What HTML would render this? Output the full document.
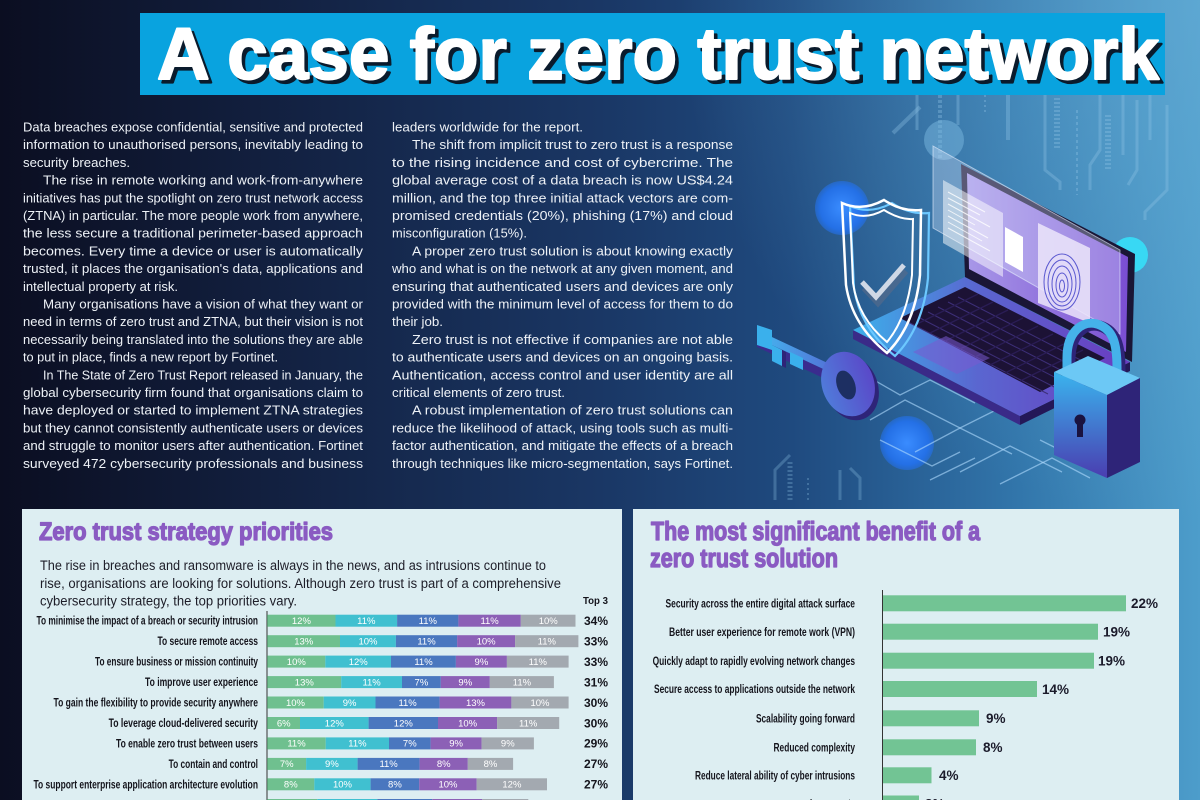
<!DOCTYPE html>
<html><head><meta charset="utf-8">
<style>
html,body{margin:0;padding:0;width:1200px;height:800px;overflow:hidden;background:#0c1024}
svg{display:block}
.b{font-family:"Liberation Sans",sans-serif;font-size:13px;fill:#eef2f7}
.d{font-family:"Liberation Sans",sans-serif;font-size:13.5px;fill:#1d1d28}
.c{font-family:"Liberation Sans Narrow","Liberation Sans",sans-serif;font-weight:bold;fill:#14141c}
.s{font-family:"Liberation Sans Narrow","Liberation Sans",sans-serif;font-size:9.5px;fill:#ffffff}
.p{font-family:"Liberation Sans",sans-serif;font-weight:bold;font-size:13.5px;fill:#1b1b2b}
.h{font-family:"Liberation Sans Narrow","Liberation Sans",sans-serif;font-weight:bold;fill:#8a5bc2;stroke:#8a5bc2;stroke-width:1.3;stroke-linejoin:round}
</style></head><body>
<svg width="1200" height="800" viewBox="0 0 1200 800" xmlns="http://www.w3.org/2000/svg">
<defs>
<linearGradient id="bg" x1="0" y1="0" x2="1200" y2="0" gradientUnits="userSpaceOnUse">
 <stop offset="0" stop-color="#0b0e21"/>
 <stop offset="0.25" stop-color="#132243"/>
 <stop offset="0.5" stop-color="#1a3765"/>
 <stop offset="0.66" stop-color="#1f4a7f"/>
 <stop offset="0.85" stop-color="#3276ab"/>
 <stop offset="1" stop-color="#4d9dcb"/>
</linearGradient>
<radialGradient id="glow" cx="1200" cy="0" r="520" gradientUnits="userSpaceOnUse">
 <stop offset="0" stop-color="#6ab0d8" stop-opacity="0.55"/>
 <stop offset="1" stop-color="#6ab0d8" stop-opacity="0"/>
</radialGradient>
<radialGradient id="bc" cx="0.5" cy="0.5" r="0.5">
 <stop offset="0" stop-color="#3a8cff"/>
 <stop offset="0.8" stop-color="#2470e6"/>
 <stop offset="1" stop-color="#2470e6" stop-opacity="0.6"/>
</radialGradient>
<linearGradient id="base" x1="853" y1="0" x2="1130" y2="0" gradientUnits="userSpaceOnUse">
 <stop offset="0" stop-color="#3cb0ea"/>
 <stop offset="0.45" stop-color="#5a66d0"/>
 <stop offset="1" stop-color="#6a3cc0"/>
</linearGradient>
<linearGradient id="scr" x1="966" y1="0" x2="1128" y2="0" gradientUnits="userSpaceOnUse">
 <stop offset="0" stop-color="#a898e8"/>
 <stop offset="1" stop-color="#7a4ed2"/>
</linearGradient>
<linearGradient id="lockf" x1="0" y1="372" x2="0" y2="478" gradientUnits="userSpaceOnUse">
 <stop offset="0" stop-color="#3ab4ee"/>
 <stop offset="1" stop-color="#4a3db0"/>
</linearGradient>
<linearGradient id="keyg" x1="757" y1="0" x2="875" y2="0" gradientUnits="userSpaceOnUse">
 <stop offset="0" stop-color="#44b8f0"/>
 <stop offset="1" stop-color="#5a48c8"/>
</linearGradient>
</defs>

<!-- background -->
<rect x="0" y="0" width="1200" height="800" fill="url(#bg)"/>
<rect x="0" y="0" width="1200" height="800" fill="url(#glow)"/>

<!-- top circuit lines -->
<g stroke="#8fc4e6" stroke-opacity="0.35" fill="none">
 <path d="M917,95 L917,130" stroke-width="3"/>
 <path d="M893,133 L920,107" stroke-width="4"/>
 <path d="M940,95 L940,160" stroke-width="4" stroke-dasharray="3,2"/>
 <path d="M958,95 L958,125" stroke-width="3"/>
 <path d="M985,95 L985,115" stroke-width="2" stroke-dasharray="2,3"/>
 <path d="M1008,95 L1008,140" stroke-width="4"/>
 <path d="M1045,95 L1045,170 L1060,182 L1060,190" stroke-width="3"/>
 <path d="M1057,98 L1057,150" stroke-width="6" stroke-dasharray="2,2"/>
 <path d="M1077,110 L1077,195" stroke-width="2" stroke-dasharray="3,3"/>
 <path d="M1100,95 L1100,150 L1090,165 L1090,190" stroke-width="3"/>
 <path d="M1108,115 L1108,170" stroke-width="6" stroke-dasharray="2,2"/>
 <path d="M1123,95 L1123,155" stroke-width="3"/>
 <path d="M1137,100 L1137,170 L1128,185" stroke-width="3"/>
 <path d="M1150,95 L1150,140" stroke-width="3"/>
 <path d="M1167,105 L1167,190 L1145,212 L1145,220" stroke-width="3"/>
</g>
<g stroke="#8fc4e6" stroke-opacity="0.3" fill="none">
 <path d="M775,500 L775,470 L790,455" stroke-width="3"/>
 <path d="M790,500 L790,460" stroke-width="5" stroke-dasharray="2,2"/>
 <path d="M808,500 L808,475" stroke-width="2" stroke-dasharray="2,3"/>
 <path d="M840,500 L840,470" stroke-width="3"/>
 <path d="M860,500 L860,478 L850,468" stroke-width="3"/>
</g>

<!-- glow circles -->
<circle cx="944" cy="140" r="20" fill="#7ab8e0" fill-opacity="0.5"/>
<circle cx="842" cy="208" r="27" fill="url(#bc)"/>
<circle cx="907" cy="443" r="27" fill="url(#bc)"/>
<circle cx="1130" cy="255" r="18" fill="#38d8f4"/>

<!-- floor circuits -->
<g stroke="#b0dcff" stroke-opacity="0.6" stroke-width="1.3" fill="none">
 <path d="M860,372 L900,395 L930,380 L975,403"/>
 <path d="M870,420 L905,400 L960,428 L1000,408"/>
 <path d="M915,452 L960,428 L1012,454"/>
 <path d="M960,472 L1010,446 L1062,472"/>
 <path d="M1000,484 L1052,458 L1090,478"/>
 <path d="M880,440 L932,466 L960,452"/>
 <path d="M1040,440 L1080,460 L1120,440"/>
 <path d="M930,480 L975,458"/>
</g>

<!-- laptop base -->
<polygon points="853,330 1020,416 1020,425 853,339" fill="#3a2a88"/>
<polygon points="1020,416 1130,362 1130,371 1020,425" fill="#241858"/>
<polygon points="853,330 965,277 1130,362 1020,416" fill="url(#base)"/>
<polygon points="900,318 965,287 1105,358 1040,392" fill="#1c1235"/>
<g stroke="#3d2f78" stroke-width="1">
 <path d="M908,322 L1048,394"/><path d="M918,317 L1058,389"/><path d="M928,312 L1068,384"/><path d="M938,307 L1078,379"/><path d="M948,302 L1088,374"/><path d="M958,297 L1098,369"/>
</g>
<g stroke="#2a1d55" stroke-width="1.3">
 <path d="M915,325 L978,294"/><path d="M930,333 L993,302"/><path d="M945,341 L1008,310"/><path d="M960,349 L1023,318"/><path d="M975,357 L1038,326"/><path d="M990,365 L1053,334"/><path d="M1005,373 L1068,342"/><path d="M1020,381 L1083,350"/>
</g>
<polygon points="913,352 946,336 990,358 957,374" fill="#7a5ad0" fill-opacity="0.55"/>

<!-- lid -->
<polygon points="961,164 1135,254 1132,362 965,277" fill="#1a1636"/>
<polygon points="967,173 1128,257 1126,352 969,269" fill="url(#scr)"/>
<!-- hologram pane -->
<polygon points="933,146 1120,250 1120,334 933,228" fill="#dfe8ff" fill-opacity="0.32" stroke="#e8f0ff" stroke-opacity="0.6"/>
<polygon points="943,180 1003,213 1003,277 943,243" fill="#ffffff" fill-opacity="0.5"/>
<g stroke="#ffffff" stroke-opacity="0.8" stroke-width="1">
 <path d="M948,192 L985,212"/><path d="M948,198 L980,215"/><path d="M948,204 L990,227"/><path d="M948,210 L975,225"/><path d="M948,216 L988,238"/><path d="M948,222 L982,241"/><path d="M948,228 L990,251"/>
</g>
<polygon points="1005,227 1023,237 1023,272 1005,262" fill="#ffffff"/>
<polygon points="1038,223 1090,248 1090,323 1038,303" fill="#ece6fa" fill-opacity="0.85"/>
<g fill="none" stroke="#5a58d0" stroke-width="1">
 <ellipse cx="1062" cy="282" rx="18" ry="28"/>
 <ellipse cx="1062" cy="283" rx="14" ry="23"/>
 <ellipse cx="1062" cy="284" rx="10" ry="18"/>
 <ellipse cx="1062" cy="285" rx="6" ry="12"/>
 <ellipse cx="1062" cy="286" rx="2.5" ry="6"/>
</g>

<!-- shield -->
<path d="M850,206 Q870,215 892,203 Q910,215 929,213 L928,278 Q923,328 895,356 Q860,328 854,288 Z" fill="none" stroke="#6cc8ff" stroke-width="2.2"/>
<path d="M842,203 Q862,212 884,200 Q902,212 921,210 L920,275 Q915,325 887,353 Q852,325 846,285 Z" fill="none" stroke="#ffffff" stroke-width="2.5"/>
<path d="M850,213 Q866,220 884,210 Q900,220 913,219 L912,275 Q907,318 887,342 Q858,318 853,283 Z" fill="none" stroke="#ffffff" stroke-width="2"/>
<polyline points="862,285 876,300 904,268" fill="none" stroke="#5a6a88" stroke-width="6" stroke-opacity="0.6" transform="translate(2,3)"/>
<polyline points="862,282 876,297 904,265" fill="none" stroke="#cfd8e6" stroke-width="5"/>

<!-- key -->
<polygon points="757,338 834,374 834,383 757,347" fill="#3a2c8e"/>
<polygon points="757,330 834,366 834,374 757,338" fill="url(#keyg)"/>
<polygon points="757,325 772,330 772,350 757,345" fill="#3ab0ec"/>
<polygon points="772,345 782,350 782,366 772,361" fill="#3ab0ec"/>
<polygon points="790,352 803,358 803,370 790,364" fill="#3ab0ec"/>
<polygon points="782,350 786,352 786,368 782,366" fill="#2e2478"/>
<ellipse cx="852" cy="388" rx="26" ry="33" fill="#2e2478" transform="rotate(-20 852 388)"/>
<ellipse cx="848" cy="384" rx="26" ry="33" fill="url(#keyg)" transform="rotate(-20 848 384)"/>
<ellipse cx="846" cy="385" rx="9" ry="15" fill="#1d2f62" transform="rotate(-20 846 385)"/>

<!-- padlock -->
<path d="M1070,392 L1070,360 C1070,333 1086,322 1100,326 C1116,331 1120,345 1120,370 L1120,388" fill="none" stroke="#2e2478" stroke-width="11"/>
<path d="M1067,390 L1067,358 C1067,331 1083,320 1097,324 C1113,329 1117,343 1117,368 L1117,386" fill="none" stroke="#45b2ea" stroke-width="9"/>
<polygon points="1054,372 1088,356 1140,378 1107,395" fill="#6cc8f5"/>
<polygon points="1107,395 1140,378 1140,462 1107,478" fill="#2e2478"/>
<polygon points="1054,372 1107,395 1107,478 1054,455" fill="url(#lockf)"/>
<circle cx="1080" cy="420" r="5.5" fill="#1a1240"/>
<rect x="1077" y="420" width="6" height="17" fill="#1a1240"/>

<!-- title -->
<rect x="140" y="13" width="1025" height="82" fill="#09a3df"/>
<text x="160.5" y="82.5" font-size="73" font-weight="bold" font-family="'Liberation Sans Narrow','Liberation Sans',sans-serif" textLength="1002" lengthAdjust="spacingAndGlyphs" fill="#0a1b2c" stroke="#0a1b2c" stroke-width="2.2" stroke-linejoin="round">A case for zero trust network</text>
<text x="157" y="79" font-size="73" font-weight="bold" font-family="'Liberation Sans Narrow','Liberation Sans',sans-serif" textLength="1002" lengthAdjust="spacingAndGlyphs" fill="#ffffff" stroke="#ffffff" stroke-width="2" stroke-linejoin="round">A case for zero trust network</text>

<!-- left column -->
<g class="b">
<text x="23" y="131.5" textLength="340" lengthAdjust="spacingAndGlyphs">Data breaches expose confidential, sensitive and protected</text>
<text x="23" y="149.2" textLength="340" lengthAdjust="spacingAndGlyphs">information to unauthorised persons, inevitably leading to</text>
<text x="23" y="166.9" textLength="107" lengthAdjust="spacingAndGlyphs">security breaches.</text>
<text x="43" y="184.6" textLength="320" lengthAdjust="spacingAndGlyphs">The rise in remote working and work-from-anywhere</text>
<text x="23" y="202.3" textLength="340" lengthAdjust="spacingAndGlyphs">initiatives has put the spotlight on zero trust network access</text>
<text x="23" y="220" textLength="340" lengthAdjust="spacingAndGlyphs">(ZTNA) in particular. The more people work from anywhere,</text>
<text x="23" y="237.7" textLength="340" lengthAdjust="spacingAndGlyphs">the less secure a traditional perimeter-based approach</text>
<text x="23" y="255.4" textLength="340" lengthAdjust="spacingAndGlyphs">becomes. Every time a device or user is automatically</text>
<text x="23" y="273.1" textLength="340" lengthAdjust="spacingAndGlyphs">trusted, it places the organisation's data, applications and</text>
<text x="23" y="290.8" textLength="155" lengthAdjust="spacingAndGlyphs">intellectual property at risk.</text>
<text x="43" y="308.5" textLength="320" lengthAdjust="spacingAndGlyphs">Many organisations have a vision of what they want or</text>
<text x="23" y="326.2" textLength="340" lengthAdjust="spacingAndGlyphs">need in terms of zero trust and ZTNA, but their vision is not</text>
<text x="23" y="343.9" textLength="340" lengthAdjust="spacingAndGlyphs">necessarily being translated into the solutions they are able</text>
<text x="23" y="361.6" textLength="255" lengthAdjust="spacingAndGlyphs">to put in place, finds a new report by Fortinet.</text>
<text x="43" y="379.3" textLength="320" lengthAdjust="spacingAndGlyphs">In The State of Zero Trust Report released in January, the</text>
<text x="23" y="397" textLength="340" lengthAdjust="spacingAndGlyphs">global cybersecurity firm found that organisations claim to</text>
<text x="23" y="414.7" textLength="340" lengthAdjust="spacingAndGlyphs">have deployed or started to implement ZTNA strategies</text>
<text x="23" y="432.4" textLength="340" lengthAdjust="spacingAndGlyphs">but they cannot consistently authenticate users or devices</text>
<text x="23" y="450.1" textLength="340" lengthAdjust="spacingAndGlyphs">and struggle to monitor users after authentication. Fortinet</text>
<text x="23" y="467.8" textLength="340" lengthAdjust="spacingAndGlyphs">surveyed 472 cybersecurity professionals and business</text>
</g>

<!-- middle column -->
<g class="b">
<text x="392" y="131.5" textLength="191" lengthAdjust="spacingAndGlyphs">leaders worldwide for the report.</text>
<text x="412" y="149.2" textLength="321" lengthAdjust="spacingAndGlyphs">The shift from implicit trust to zero trust is a response</text>
<text x="392" y="166.9" textLength="341" lengthAdjust="spacingAndGlyphs">to the rising incidence and cost of cybercrime. The</text>
<text x="392" y="184.6" textLength="341" lengthAdjust="spacingAndGlyphs">global average cost of a data breach is now US$4.24</text>
<text x="392" y="202.3" textLength="341" lengthAdjust="spacingAndGlyphs">million, and the top three initial attack vectors are com-</text>
<text x="392" y="220" textLength="341" lengthAdjust="spacingAndGlyphs">promised credentials (20%), phishing (17%) and cloud</text>
<text x="392" y="237.7" textLength="135" lengthAdjust="spacingAndGlyphs">misconfiguration (15%).</text>
<text x="412" y="255.4" textLength="321" lengthAdjust="spacingAndGlyphs">A proper zero trust solution is about knowing exactly</text>
<text x="392" y="273.1" textLength="341" lengthAdjust="spacingAndGlyphs">who and what is on the network at any given moment, and</text>
<text x="392" y="290.8" textLength="341" lengthAdjust="spacingAndGlyphs">ensuring that authenticated users and devices are only</text>
<text x="392" y="308.5" textLength="341" lengthAdjust="spacingAndGlyphs">provided with the minimum level of access for them to do</text>
<text x="392" y="326.2" textLength="51" lengthAdjust="spacingAndGlyphs">their job.</text>
<text x="412" y="343.9" textLength="321" lengthAdjust="spacingAndGlyphs">Zero trust is not effective if companies are not able</text>
<text x="392" y="361.6" textLength="341" lengthAdjust="spacingAndGlyphs">to authenticate users and devices on an ongoing basis.</text>
<text x="392" y="379.3" textLength="341" lengthAdjust="spacingAndGlyphs">Authentication, access control and user identity are all</text>
<text x="392" y="397" textLength="173" lengthAdjust="spacingAndGlyphs">critical elements of zero trust.</text>
<text x="412" y="414.7" textLength="321" lengthAdjust="spacingAndGlyphs">A robust implementation of zero trust solutions can</text>
<text x="392" y="432.4" textLength="341" lengthAdjust="spacingAndGlyphs">reduce the likelihood of attack, using tools such as multi-</text>
<text x="392" y="450.1" textLength="341" lengthAdjust="spacingAndGlyphs">factor authentication, and mitigate the effects of a breach</text>
<text x="392" y="467.8" textLength="341" lengthAdjust="spacingAndGlyphs">through techniques like micro-segmentation, says Fortinet.</text>
</g>

<!-- panels -->
<rect x="22" y="509" width="600" height="300" fill="#ddeef2"/>
<rect x="633" y="509" width="546" height="300" fill="#ddeef2"/>

<!-- left panel -->
<text class="h" x="39" y="540" font-size="25" textLength="294" lengthAdjust="spacingAndGlyphs">Zero trust strategy priorities</text>
<g class="d">
<text x="40" y="570" textLength="506" lengthAdjust="spacingAndGlyphs">The rise in breaches and ransomware is always in the news, and as intrusions continue to</text>
<text x="40" y="588" textLength="521" lengthAdjust="spacingAndGlyphs">rise, organisations are looking for solutions. Although zero trust is part of a comprehensive</text>
<text x="40" y="605.5" textLength="257" lengthAdjust="spacingAndGlyphs">cybersecurity strategy, the top priorities vary.</text>
</g>
<text class="c" x="583" y="604" font-size="10.5" textLength="25" lengthAdjust="spacingAndGlyphs">Top 3</text>

<line x1="267" y1="611" x2="267" y2="800" stroke="#333" stroke-width="1"/>

<g class="c" font-size="11.5">
<text x="36.5" y="624.7" textLength="221.5" lengthAdjust="spacingAndGlyphs">To minimise the impact of a breach or security intrusion</text>
<text x="157.5" y="645.2" textLength="100.5" lengthAdjust="spacingAndGlyphs">To secure remote access</text>
<text x="95" y="665.6" textLength="163" lengthAdjust="spacingAndGlyphs">To ensure business or mission continuity</text>
<text x="145" y="686.1" textLength="113" lengthAdjust="spacingAndGlyphs">To improve user experience</text>
<text x="53.5" y="706.5" textLength="204.5" lengthAdjust="spacingAndGlyphs">To gain the flexibility to provide security anywhere</text>
<text x="108.6" y="727" textLength="149.4" lengthAdjust="spacingAndGlyphs">To leverage cloud-delivered security</text>
<text x="116" y="747.4" textLength="142" lengthAdjust="spacingAndGlyphs">To enable zero trust between users</text>
<text x="168.6" y="767.9" textLength="89.4" lengthAdjust="spacingAndGlyphs">To contain and control</text>
<text x="33.5" y="788.3" textLength="224.5" lengthAdjust="spacingAndGlyphs">To support enterprise application architecture evolution</text>
<text x="150" y="808.8" textLength="108" lengthAdjust="spacingAndGlyphs">To reduce operational costs</text>
</g>

<!-- stacked bars -->
<g>
<rect x="267.3" y="614.7" width="68.2" height="12" fill="#6fc08f"/><rect x="335.5" y="614.7" width="61.6" height="12" fill="#40c0d0"/><rect x="397.1" y="614.7" width="61.3" height="12" fill="#4a77bf"/><rect x="458.4" y="614.7" width="62.4" height="12" fill="#8c60b6"/><rect x="520.8" y="614.7" width="54.7" height="12" fill="#a3a9b0"/>
<rect x="267.3" y="635.2" width="72.7" height="12" fill="#6fc08f"/><rect x="340" y="635.2" width="55.9" height="12" fill="#40c0d0"/><rect x="395.9" y="635.2" width="61.2" height="12" fill="#4a77bf"/><rect x="457.1" y="635.2" width="58" height="12" fill="#8c60b6"/><rect x="515.1" y="635.2" width="63.3" height="12" fill="#a3a9b0"/>
<rect x="267.3" y="655.6" width="58" height="12" fill="#6fc08f"/><rect x="325.3" y="655.6" width="65.7" height="12" fill="#40c0d0"/><rect x="391" y="655.6" width="64.9" height="12" fill="#4a77bf"/><rect x="455.9" y="655.6" width="51" height="12" fill="#8c60b6"/><rect x="506.9" y="655.6" width="61.7" height="12" fill="#a3a9b0"/>
<rect x="267.3" y="676.1" width="73.9" height="12" fill="#6fc08f"/><rect x="341.2" y="676.1" width="60.8" height="12" fill="#40c0d0"/><rect x="402" y="676.1" width="38.8" height="12" fill="#4a77bf"/><rect x="440.8" y="676.1" width="49" height="12" fill="#8c60b6"/><rect x="489.8" y="676.1" width="64.1" height="12" fill="#a3a9b0"/>
<rect x="267.3" y="696.5" width="56.4" height="12" fill="#6fc08f"/><rect x="323.7" y="696.5" width="51.8" height="12" fill="#40c0d0"/><rect x="375.5" y="696.5" width="64.1" height="12" fill="#4a77bf"/><rect x="439.6" y="696.5" width="71.8" height="12" fill="#8c60b6"/><rect x="511.4" y="696.5" width="57.2" height="12" fill="#a3a9b0"/>
<rect x="267.3" y="717" width="32.7" height="12" fill="#6fc08f"/><rect x="300" y="717" width="68.6" height="12" fill="#40c0d0"/><rect x="368.6" y="717" width="69.4" height="12" fill="#4a77bf"/><rect x="438" y="717" width="59.1" height="12" fill="#8c60b6"/><rect x="497.1" y="717" width="62.1" height="12" fill="#a3a9b0"/>
<rect x="267.3" y="737.4" width="58.4" height="12" fill="#6fc08f"/><rect x="325.7" y="737.4" width="63.3" height="12" fill="#40c0d0"/><rect x="389" y="737.4" width="41.6" height="12" fill="#4a77bf"/><rect x="430.6" y="737.4" width="51" height="12" fill="#8c60b6"/><rect x="481.6" y="737.4" width="52.3" height="12" fill="#a3a9b0"/>
<rect x="267.3" y="757.9" width="38.8" height="12" fill="#6fc08f"/><rect x="306.1" y="757.9" width="51.5" height="12" fill="#40c0d0"/><rect x="357.6" y="757.9" width="62" height="12" fill="#4a77bf"/><rect x="419.6" y="757.9" width="48.2" height="12" fill="#8c60b6"/><rect x="467.8" y="757.9" width="45.3" height="12" fill="#a3a9b0"/>
<rect x="267.3" y="778.3" width="47" height="12" fill="#6fc08f"/><rect x="314.3" y="778.3" width="56.3" height="12" fill="#40c0d0"/><rect x="370.6" y="778.3" width="48.6" height="12" fill="#4a77bf"/><rect x="419.2" y="778.3" width="57.5" height="12" fill="#8c60b6"/><rect x="476.7" y="778.3" width="70.3" height="12" fill="#a3a9b0"/>
<rect x="267.3" y="799" width="50" height="12" fill="#6fc08f"/><rect x="317.3" y="799" width="60" height="12" fill="#40c0d0"/><rect x="377.3" y="799" width="55" height="12" fill="#4a77bf"/><rect x="432.3" y="799" width="50" height="12" fill="#8c60b6"/><rect x="482.3" y="799" width="46" height="12" fill="#a3a9b0"/>
</g>

<g class="s" text-anchor="middle">
<text x="301.4" y="624">12%</text><text x="366.3" y="624">11%</text><text x="427.8" y="624">11%</text><text x="489.6" y="624">11%</text><text x="548.2" y="624">10%</text>
<text x="303.7" y="644.5">13%</text><text x="368" y="644.5">10%</text><text x="426.5" y="644.5">11%</text><text x="486.1" y="644.5">10%</text><text x="546.8" y="644.5">11%</text>
<text x="296.3" y="664.9">10%</text><text x="358.2" y="664.9">12%</text><text x="423.5" y="664.9">11%</text><text x="481.4" y="664.9">9%</text><text x="537.8" y="664.9">11%</text>
<text x="304.3" y="685.4">13%</text><text x="371.6" y="685.4">11%</text><text x="421.4" y="685.4">7%</text><text x="465.3" y="685.4">9%</text><text x="521.9" y="685.4">11%</text>
<text x="295.5" y="705.8">10%</text><text x="349.6" y="705.8">9%</text><text x="407.6" y="705.8">11%</text><text x="475.5" y="705.8">13%</text><text x="540" y="705.8">10%</text>
<text x="283.7" y="726.3">6%</text><text x="334.3" y="726.3">12%</text><text x="403.3" y="726.3">12%</text><text x="467.6" y="726.3">10%</text><text x="528.2" y="726.3">11%</text>
<text x="296.5" y="746.7">11%</text><text x="357.4" y="746.7">11%</text><text x="409.8" y="746.7">7%</text><text x="456.1" y="746.7">9%</text><text x="507.8" y="746.7">9%</text>
<text x="286.7" y="767.2">7%</text><text x="331.9" y="767.2">9%</text><text x="388.6" y="767.2">11%</text><text x="443.7" y="767.2">8%</text><text x="490.5" y="767.2">8%</text>
<text x="290.8" y="787.6">8%</text><text x="342.5" y="787.6">10%</text><text x="394.9" y="787.6">8%</text><text x="448" y="787.6">10%</text><text x="511.9" y="787.6">12%</text>
</g>

<g class="c" font-size="12" text-anchor="end">
<text x="608" y="625">34%</text>
<text x="608" y="645.5">33%</text>
<text x="608" y="665.9">33%</text>
<text x="608" y="686.4">31%</text>
<text x="608" y="706.8">30%</text>
<text x="608" y="727.3">30%</text>
<text x="608" y="747.7">29%</text>
<text x="608" y="768.2">27%</text>
<text x="608" y="788.6">27%</text>
</g>

<!-- right panel -->
<text class="h" x="651" y="540" font-size="25.5" textLength="329" lengthAdjust="spacingAndGlyphs">The most significant benefit of a</text>
<text class="h" x="650" y="567" font-size="25.5" textLength="188" lengthAdjust="spacingAndGlyphs">zero trust solution</text>

<line x1="882.5" y1="590" x2="882.5" y2="800" stroke="#333" stroke-width="1"/>

<g fill="#72c494">
<rect x="883" y="595.3" width="243" height="16"/>
<rect x="883" y="623.7" width="215" height="16"/>
<rect x="883" y="652.7" width="211" height="16"/>
<rect x="883" y="681" width="154" height="16"/>
<rect x="883" y="710.3" width="96" height="16"/>
<rect x="883" y="739.3" width="93" height="16"/>
<rect x="883" y="767.3" width="48.5" height="16"/>
<rect x="883" y="795.5" width="36" height="16"/>
</g>

<g class="c" font-size="12">
<text x="665.5" y="607.5" textLength="189.5" lengthAdjust="spacingAndGlyphs">Security across the entire digital attack surface</text>
<text x="669" y="635.9" textLength="186" lengthAdjust="spacingAndGlyphs">Better user experience for remote work (VPN)</text>
<text x="652.6" y="664.9" textLength="202.4" lengthAdjust="spacingAndGlyphs">Quickly adapt to rapidly evolving network changes</text>
<text x="654" y="693.2" textLength="201" lengthAdjust="spacingAndGlyphs">Secure access to applications outside the network</text>
<text x="756" y="722.5" textLength="99" lengthAdjust="spacingAndGlyphs">Scalability going forward</text>
<text x="773.5" y="751.5" textLength="81.5" lengthAdjust="spacingAndGlyphs">Reduced complexity</text>
<text x="695" y="779.5" textLength="160" lengthAdjust="spacingAndGlyphs">Reduce lateral ability of cyber intrusions</text>
<text x="810" y="807.7" textLength="45" lengthAdjust="spacingAndGlyphs">Lower costs</text>
</g>

<g class="p">
<text x="1131" y="608.2">22%</text>
<text x="1103" y="636.6">19%</text>
<text x="1098" y="665.6">19%</text>
<text x="1042" y="693.9">14%</text>
<text x="986" y="723.2">9%</text>
<text x="983" y="752.2">8%</text>
<text x="939" y="780.2">4%</text>
<text x="925" y="808.4">3%</text>
</g>
</svg>
</body></html>
